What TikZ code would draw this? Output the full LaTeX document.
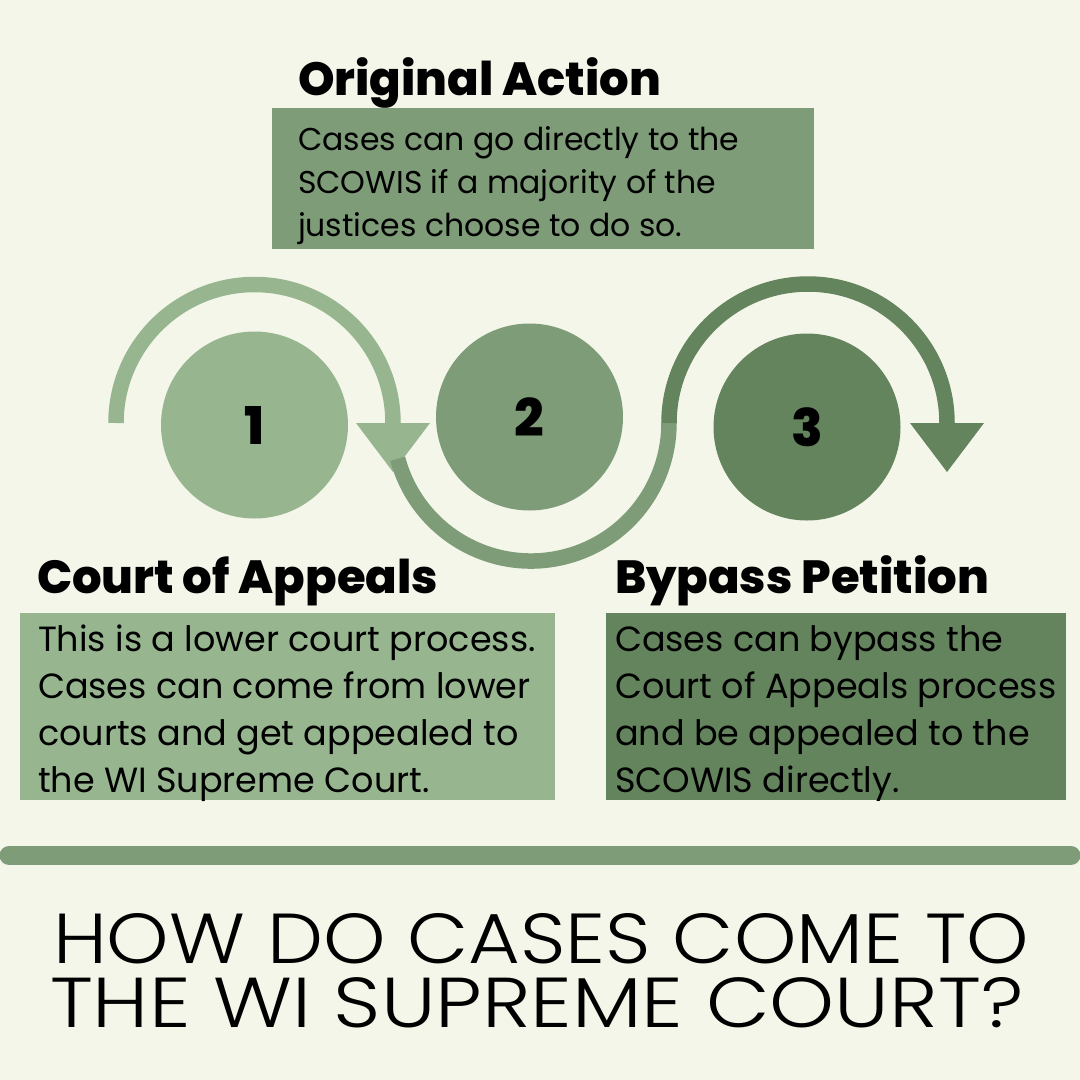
\documentclass[tikz,border=0pt]{standalone}
\usepackage{fontspec}
\usepackage{graphicx}
\usetikzlibrary{calc}
\setmainfont{Poppins}
\newfontfamily\headfont{Poppins ExtraBold}
\newfontfamily\titlefont{Poppins Light}
\definecolor{bg}{HTML}{F5F6EA}
\definecolor{gLight}{HTML}{97B690}
\definecolor{gMid}{HTML}{7E9C77}
\definecolor{gDark}{HTML}{64845D}
\begin{document}
\begin{tikzpicture}[x=1pt,y=-1pt,
  every node/.style={inner sep=0pt,outer sep=0pt},
  heading/.style={anchor=base west,font=\headfont\fontsize{46.5}{46.5}\selectfont,text=black},
  bodyA/.style={anchor=base west,font=\fontsize{31.5}{31.5}\selectfont,text=black},
  bodyB/.style={anchor=base west,font=\fontsize{35}{35}\selectfont,text=black},
  numcircle/.style={circle,minimum size=187pt,font=\headfont\fontsize{52}{52}\selectfont,text=black},
  arcline/.style={line width=15.5pt},
  titleline/.style={anchor=base west,text=black}]
% background
\fill[bg] (0,0) rectangle (1080,1080);
\useasboundingbox (0,0) rectangle (1080,1080);

% boxes
\fill[gMid] (272,108) rectangle (814,249);
\fill[gLight] (20,613) rectangle (555,800);
\fill[gDark] (606,613) rectangle (1066,800);

% headings
\node[heading] (hOA) at (298,95) {Original Action};
\node[heading] (hCA) at (37,593) {Court of Appeals};
\node[heading] (hBP) at (615,593) {Bypass Petition};

% body text
\node[bodyA] (oa1) at (298,150) {Cases can go directly to the};
\node[bodyA] (oa2) at (298,193) {SCOWIS if a majority of the};
\node[bodyA] (oa3) at (298,236) {justices choose to do so.};

\node[bodyB] (ca1) at (38,651) {This is a lower court process.};
\node[bodyB] (ca2) at (38,698) {Cases can come from lower};
\node[bodyB] (ca3) at (38,745) {courts and get appealed to};
\node[bodyB] (ca4) at (38,792) {the WI Supreme Court.};

\node[bodyB] (bp1) at (615,651) {Cases can bypass the};
\node[bodyB] (bp2) at (615,698) {Court of Appeals process};
\node[bodyB] (bp3) at (615,745) {and be appealed to the};
\node[bodyB] (bp4) at (615,792) {SCOWIS directly.};

% circles
\node[numcircle,fill=gLight] (c1) at (254.5,425) {1};
\node[numcircle,fill=gMid] (c2) at (529.5,417) {2};
\node[numcircle,fill=gDark] (c3) at (807,427) {3};

% arc start points
\coordinate (a1s) at (116,423);
\coordinate (a2s) at ({531+138*cos(165)},{423+138*sin(165)});
\coordinate (a3s) at (669,423);

% arc 1 with arrowhead
\draw[arcline,gLight] (a1s) arc[start angle=180,end angle=360,radius=138.5] coordinate (a1e);
\fill[gLight] ($(a1e)+(-37,0)$) -- ($(a1e)+(37,0)$) -- ($(a1e)+(0,49)$) -- cycle;

% arc 2 (lower)
\draw[arcline,gMid] (a2s) arc[start angle=165,end angle=0,radius=138] coordinate (a2e);

% arc 3 with arrowhead
\draw[arcline,gDark] (a3s) arc[start angle=180,end angle=360,radius=139] coordinate (a3e);
\fill[gDark] ($(a3e)+(-37,0)$) -- ($(a3e)+(37,0)$) -- ($(a3e)+(0,49)$) -- cycle;

% separator bar
\coordinate (barL) at (9,855.5);
\coordinate (barR) at (1071,855.5);
\draw[gMid,line width=19pt,line cap=round] (barL) -- (barR);

% title
\node[titleline] (t1) at (53,963) {\resizebox{976pt}{50pt}{\titlefont HOW DO CASES COME TO}};
\node[titleline] (t2) at (50,1027) {\resizebox{973pt}{50pt}{\titlefont THE WI SUPREME COURT?}};
\end{tikzpicture}
\end{document}
